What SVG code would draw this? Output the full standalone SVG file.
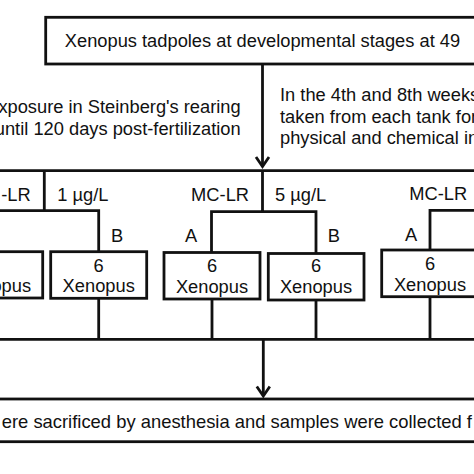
<svg xmlns="http://www.w3.org/2000/svg" width="474" height="474" viewBox="0 0 474 474">
<style>
  text { font-family: "Liberation Sans", Arial, sans-serif; font-size: 18.3px; fill: #111; }
  .box { fill: #fff; stroke: #111; stroke-width: 2.8; }
  .ln { fill: none; stroke: #111; stroke-width: 2.8; }
  .ah { fill: none; stroke: #111; stroke-width: 2.8; stroke-linejoin: miter; }
  .mid { text-anchor: middle; }
  .end { text-anchor: end; }
</style>
<rect x="0" y="0" width="474" height="474" fill="#fff"/>

<g id="connectors">
  <path class="ln" d="M262.5 64 V166"/>
  <path class="ah" d="M256 157 L262.5 166.5 L269 157"/>
  <path class="ln" d="M-5 170.7 H480"/>
  <path class="ln" d="M44.3 170.7 V210.7 M-10 210.7 H98.7 V251.7"/>
  <path class="ln" d="M262.5 170.7 V211.7 M211.5 252.5 V211.7 H316 V253.5"/>
  <path class="ln" d="M430 250 V210.3 H480"/>
  <path class="ln" d="M98.7 298.3 V339.3 M212 299 V339.3 M316 300 V339.3 M430 296.7 V339.3 M-5 339.3 H480"/>
  <path class="ln" d="M263.3 339.3 V396"/>
  <path class="ah" d="M256.8 386.5 L263.3 396 L269.8 386.5"/>
</g>

<g id="label-left">
  <text class="end" x="240.7" y="113">xposure in Steinberg's rearing</text>
  <text class="end" x="240.7" y="135">until 120 days post-fertilization</text>
</g>
<g id="label-right">
  <text x="280" y="101">In the 4th and 8th weeks</text>
  <text x="280" y="122.5">taken from each tank for</text>
  <text x="280" y="143.5">physical and chemical in</text>
</g>
<g id="branch-labels">
  <text class="end" x="30.7" y="200.5">-LR</text>
  <text x="57.3" y="200.5">1 µg/L</text>
  <text x="111" y="241.7">B</text>
  <text class="end" x="249" y="201">MC-LR</text>
  <text x="275" y="201">5 µg/L</text>
  <text x="185" y="241.7">A</text>
  <text x="327.7" y="242">B</text>
  <text x="409.3" y="200">MC-LR</text>
  <text x="405" y="241">A</text>
</g>

<g id="start">
  <rect class="box" x="45.7" y="17.3" width="440" height="46.7"/>
  <text x="64.8" y="46.7">Xenopus tadpoles at developmental stages at 49</text>
</g>

<g id="group1">
  <rect class="box" x="-53" y="251.7" width="95.7" height="46.3"/>
  <text class="mid" x="-5" y="271.7">6</text>
  <text class="mid" x="-5" y="292.3">Xenopus</text>
</g>
<g id="group2">
  <rect class="box" x="50.7" y="251.7" width="96" height="46.6"/>
  <text class="mid" x="98.7" y="271.7">6</text>
  <text class="mid" x="98.7" y="292.3">Xenopus</text>
</g>
<g id="group3">
  <rect class="box" x="164" y="252.5" width="96" height="46.5"/>
  <text class="mid" x="212" y="271.7">6</text>
  <text class="mid" x="212" y="292.7">Xenopus</text>
</g>
<g id="group4">
  <rect class="box" x="268.3" y="253.5" width="95.7" height="46.5"/>
  <text class="mid" x="316" y="272.3">6</text>
  <text class="mid" x="316" y="293.3">Xenopus</text>
</g>
<g id="group5">
  <rect class="box" x="381.7" y="250" width="96.6" height="46.7"/>
  <text class="mid" x="430" y="270">6</text>
  <text class="mid" x="430" y="291">Xenopus</text>
</g>

<g id="end">
  <rect class="box" x="-5" y="399" width="484" height="42.7"/>
  <text x="1.7" y="428.3" style="font-size:18.4px">ere sacrificed by anesthesia and samples were collected f</text>
</g>
</svg>
